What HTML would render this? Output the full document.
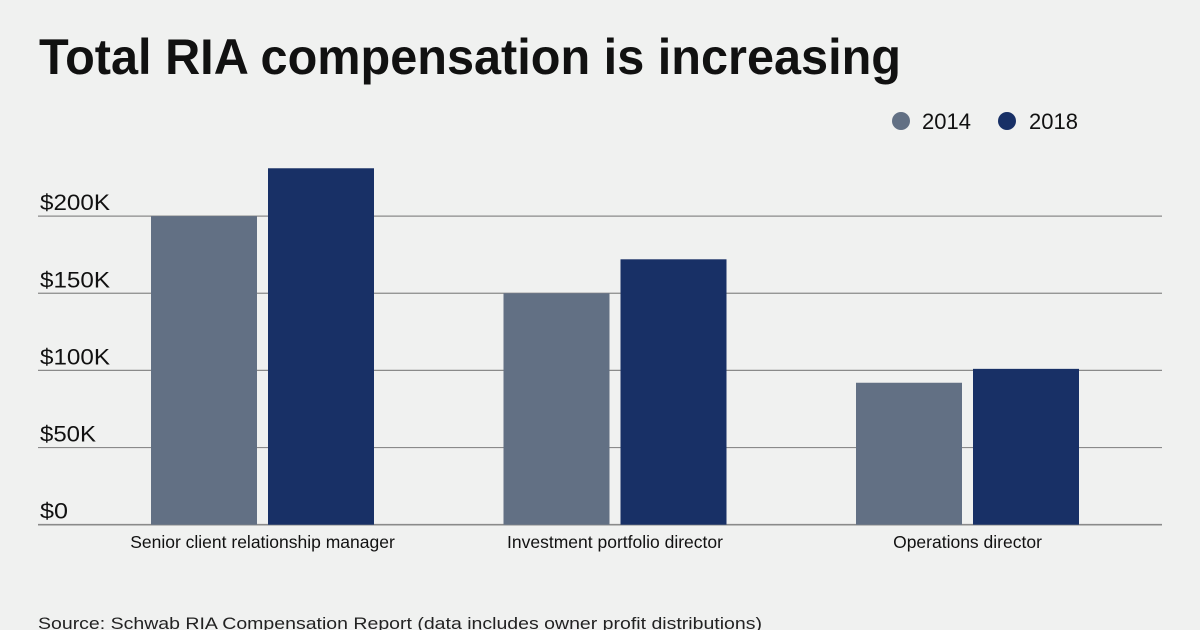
<!DOCTYPE html>
<html><head><meta charset="utf-8"><style>
html,body{margin:0;padding:0;background:#f0f1f0;}
svg{display:block;font-family:"Liberation Sans",sans-serif;}
</style></head><body>
<svg id="chart" width="1200" height="630" viewBox="0 0 1200 630" xmlns="http://www.w3.org/2000/svg">
<rect width="1200" height="630" fill="#f0f1f0"/>
<text x="39" y="74" font-size="50" font-weight="600" fill="#111" textLength="862" lengthAdjust="spacingAndGlyphs">Total RIA compensation is increasing</text>
<g>
<g>
<circle cx="901" cy="121" r="9" fill="#627084"/>
<text x="922" y="129" font-size="22" fill="#111">2014</text></g>
<g>
<circle cx="1007" cy="121" r="9" fill="#183066"/>
<text x="1029" y="129" font-size="22" fill="#111">2018</text></g>
</g>
<g id="grid"></g>
<g id="bars"></g>
<g id="ylabels"></g>
<g id="xlabels"></g>
<text x="38" y="629" font-size="17" fill="#222" textLength="724" lengthAdjust="spacingAndGlyphs">Source: Schwab RIA Compensation Report (data includes owner profit distributions)</text>
</svg>
<script>
const categories = ["Senior client relationship manager","Investment portfolio director","Operations director"];
const values2014 = [200, 150, 92];
const values2018 = [231, 172, 101];
const yTicks = [0, 50, 100, 150, 200];
const yTickLabels = ["$0","$50K","$100K","$150K","$200K"];

const NS = "http://www.w3.org/2000/svg";
const y0 = 524.7, pxPerK = 1.543;
function yScale(v){ return y0 - v * pxPerK; }
const groupStart = 151, groupStep = 352.5, barW = 106, barGap = 11;
function xBar(i, s){ return groupStart + i * groupStep + s * (barW + barGap); }
function xCenter(i){ return groupStart + i * groupStep + barW + barGap/2; }
function mk(tag, attrs, parent){ const e = document.createElementNS(NS, tag); for (const k in attrs) e.setAttribute(k, attrs[k]); parent.appendChild(e); return e; }

const grid = document.getElementById('grid');
const yl = document.getElementById('ylabels');
yTicks.forEach((t, i) => {
  const l = mk('line', {x1:38, x2:1162, y1:yScale(t), y2:yScale(t), stroke:'#8a8a8a', 'stroke-width': t===0?1.6:1.2}, grid);
  
  
  const tx = mk('text', {x:40, y:yScale(t) - 6, 'font-size':22.5, fill:'#111'}, yl);
  tx.textContent = yTickLabels[i];
  tx.setAttribute('textLength', yTickLabels[i].length * 14);
  tx.setAttribute('lengthAdjust', 'spacingAndGlyphs');
  
  
});

const bars = document.getElementById('bars');
const series = [{vals: values2014, color:'#627084', name:'2014'}, {vals: values2018, color:'#183066', name:'2018'}];
categories.forEach((c, i) => {
  series.forEach((s, si) => {
    const v = s.vals[i];
    const r = mk('rect', {x:xBar(i, si), y:yScale(v), width:barW, height:y0 - yScale(v), fill:s.color}, bars);
    
    
  });
});

const xl = document.getElementById('xlabels');
categories.forEach((c, i) => {
  const t = mk('text', {x:xCenter(i), y:548, 'font-size':17.5, fill:'#111', 'text-anchor':'middle'}, xl);
  t.textContent = c;
  
  
});
</script>
</body></html>
